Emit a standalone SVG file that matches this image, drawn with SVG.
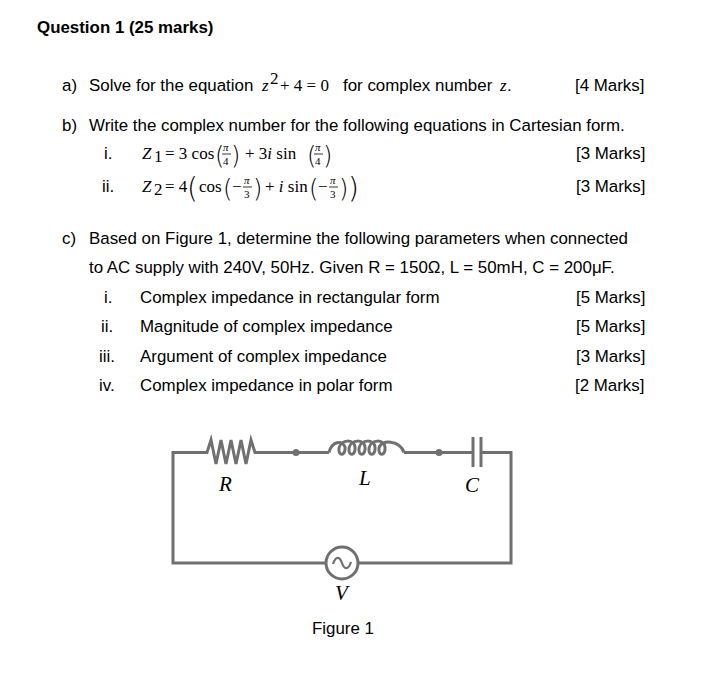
<svg xmlns="http://www.w3.org/2000/svg" width="702" height="673" viewBox="0 0 702 673">
<style>
.t{font-family:"Liberation Sans",Arial,sans-serif;font-size:16.9px;fill:#000}
.m{font-family:"Liberation Serif","DejaVu Serif",serif;font-size:17px;fill:#000}
.p{font-family:"DejaVu Sans",sans-serif;font-weight:200;fill:#000}
.s{font-family:"Liberation Serif",serif;font-size:11px;fill:#000}
.lab{font-family:"Liberation Serif",serif;font-style:italic;font-size:21px;fill:#000}
.w{fill:none;stroke:#707070;stroke-width:3;stroke-linejoin:miter}
.fl{stroke:#000;stroke-width:0.8}
</style>
<rect width="702" height="673" fill="#fff"/>
<text class="t" x="37" y="33" font-weight="bold">Question 1 (25 marks)</text>
<g id="qa">
<text class="t" x="62" y="91">a)</text>
<text class="t" x="89" y="91">Solve for the equation</text>
<text class="m" x="262" y="91" font-style="italic">z</text><text class="m" x="270" y="84" font-size="11">2</text>
<text class="m" x="280" y="91">+ 4 = 0</text>
<text class="t" x="343" y="91">for complex number</text><text class="m" x="500" y="91" font-style="italic">z</text><text class="t" x="507" y="91">.</text>
<text class="t" x="575" y="91">[4 Marks]</text>
</g>
<g id="qb">
<text class="t" x="62" y="131">b)</text>
<text class="t" x="89" y="131">Write the complex number for the following equations in Cartesian form.</text>
<text class="t" x="104" y="159">i.</text>
<text class="m" x="142" y="159" font-style="italic">Z</text><text class="m" x="154" y="162" font-size="12">1</text>
<text class="m" x="165" y="159">= 3 cos</text>
<text class="p" x="215" y="164" font-size="24">(</text><text class="s" x="223" y="151" font-style="italic">π</text><line class="fl" x1="222" y1="154" x2="231" y2="154"/><text class="s" x="223" y="165">4</text><text class="p" x="231" y="164" font-size="24">)</text>
<text class="m" x="245" y="159">+ 3<tspan font-style="italic">i</tspan> sin</text>
<text class="p" x="307" y="164" font-size="24">(</text><text class="s" x="315" y="151" font-style="italic">π</text><line class="fl" x1="314" y1="154" x2="323" y2="154"/><text class="s" x="315" y="165">4</text><text class="p" x="323" y="164" font-size="24">)</text>
<text class="t" x="576" y="159">[3 Marks]</text>
<text class="t" x="102" y="192">ii.</text>
<text class="m" x="142" y="192" font-style="italic">Z</text><text class="m" x="154" y="195" font-size="12">2</text>
<text class="m" x="165" y="192">= 4</text>
<text class="p" x="187" y="198" font-size="28">(</text>
<text class="m" x="199" y="192">cos</text>
<text class="p" x="223" y="197" font-size="24">(</text><text class="m" x="232" y="192">−</text><text class="s" x="244" y="184" font-style="italic">π</text><line class="fl" x1="243" y1="187" x2="252" y2="187"/><text class="s" x="244" y="198">3</text><text class="p" x="253" y="197" font-size="24">)</text>
<text class="m" x="265" y="192">+ <tspan font-style="italic">i</tspan> sin</text>
<text class="p" x="309" y="197" font-size="24">(</text><text class="m" x="318" y="192">−</text><text class="s" x="330" y="184" font-style="italic">π</text><line class="fl" x1="329" y1="187" x2="338" y2="187"/><text class="s" x="330" y="198">3</text><text class="p" x="339" y="197" font-size="24">)</text>
<text class="p" x="348" y="198" font-size="28">)</text>
<text class="t" x="576" y="192">[3 Marks]</text>
</g>
<g id="qc">
<text class="t" x="62" y="244">c)</text>
<text class="t" x="89" y="244">Based on Figure 1, determine the following parameters when connected</text>
<text class="t" x="89" y="273">to AC supply with 240V, 50Hz. Given R = 150Ω, L = 50mH, C = 200μF.</text>
<text class="t" x="104" y="303">i.</text><text class="t" x="140" y="303">Complex impedance in rectangular form</text><text class="t" x="576" y="303">[5 Marks]</text>
<text class="t" x="101" y="332">ii.</text><text class="t" x="140" y="332">Magnitude of complex impedance</text><text class="t" x="576" y="332">[5 Marks]</text>
<text class="t" x="99" y="362">iii.</text><text class="t" x="140" y="362">Argument of complex impedance</text><text class="t" x="576" y="362">[3 Marks]</text>
<text class="t" x="99" y="391">iv.</text><text class="t" x="140" y="391">Complex impedance in polar form</text><text class="t" x="575" y="391">[2 Marks]</text>
</g>
<g id="connectors">
<polyline class="w" points="203,452.5 173,452.5 173,563 326,563"/>
<polyline class="w" points="358,563 511,563 511,452.5 481,452.5"/>
<line class="w" x1="258" y1="452.5" x2="329" y2="452.5"/>
<line class="w" x1="404" y1="452.5" x2="473" y2="452.5"/>
</g>
<g id="R">
<polyline class="w" points="203,452.5 207,452.5 211,440 216,464 221,440 226,464 231,440 236,464 241,440 246,464 251,440 255,452.5 258,452.5" stroke-width="2.5"/>
<text class="lab" x="219" y="491">R</text>
</g>
<circle cx="296" cy="452.5" r="3.5" fill="#707070"/>
<g id="L">
<path class="w" stroke-width="2.5" d="M329,452.5 C332,441 342,440 345,447 C346,456 338,457 339,448 C341,439 354,439 355,447 C356,456 348,457 349,448 C351,439 364,439 365,447 C366,456 358,457 359,448 C361,439 374,439 375,447 C376,456 368,457 369,448 C371,439 384,439 385,447 C386,456 378,457 379,448 C381,439 400,440 404,452.5"/>
<text class="lab" x="359" y="485">L</text>
</g>
<circle cx="439" cy="452.5" r="3.5" fill="#707070"/>
<g id="C">
<line class="w" x1="473" y1="437" x2="473" y2="467"/>
<line class="w" x1="481" y1="437" x2="481" y2="467"/>
<text class="lab" x="465" y="492">C</text>
</g>
<g id="V">
<circle cx="342" cy="563" r="16" fill="#fff" stroke="#707070" stroke-width="3"/>
<path d="M333,564 C336,555 340,557 342,563 C344,569 348,571 351,562" fill="none" stroke="#707070" stroke-width="2.2"/>
<text class="lab" x="335" y="600">V</text>
</g>
<text class="t" x="312" y="634">Figure 1</text>
</svg>
